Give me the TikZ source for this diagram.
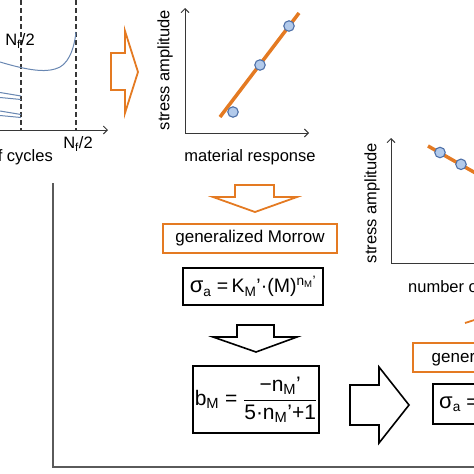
\documentclass[tikz,border=0pt]{standalone}
\usepackage{fontspec}
\setmainfont{Liberation Sans}
\usetikzlibrary{arrows.meta}
\definecolor{org}{RGB}{228,122,34}
\definecolor{dotfill}{RGB}{178,202,235}
\definecolor{dotline}{RGB}{78,112,168}
\definecolor{crv}{RGB}{105,135,178}
\definecolor{frm}{RGB}{90,90,90}
\definecolor{axc}{RGB}{55,55,55}
\tikzset{
  lbl/.style={font=\fontsize{16.5}{19}\selectfont, inner sep=0pt},
  frml/.style={font=\fontsize{19.5}{22}\selectfont, inner sep=0pt},
  frmlb/.style={font=\fontsize{21}{24}\selectfont, inner sep=0pt},
  axisln/.style={draw=axc, line width=0.9pt, -{Straight Barb[length=4pt,width=8pt]}},
  dashln/.style={draw=axc, line width=1.1pt, dash pattern=on 5pt off 3pt},
  crvln/.style={draw=crv, line width=1pt},
  fitln/.style={draw=org, line width=3.5pt},
  dotc/.style={circle, draw=dotline, fill=dotfill, line width=1.1pt, minimum size=10.5pt, inner sep=0pt},
  oarrow/.style={draw=org, line width=1.8pt, fill=white, line join=miter},
  barrow/.style={draw=black, line width=1.6pt, fill=white, line join=miter},
  obox/.style={draw=org, line width=1.8pt, rectangle},
  bbox/.style={draw=black, line width=1.5pt, rectangle},
  frame/.style={draw=frm, line width=2pt}
}
\begin{document}
\begin{tikzpicture}[x=1pt,y=-1pt]
\useasboundingbox (0,0) rectangle (474,474);
\clip (0,0) rectangle (474,474);

% ---- top-left plot (cropped) ----
\draw[dashln] (21,0) -- (21,130);
\draw[dashln] (76,0) -- (76,130);
\coordinate (xa0) at (0,130);
\coordinate (xa1) at (108,130);
\draw[axisln] (xa0) -- (xa1);
\draw[crvln] (0,62) .. controls (30,71) and (45,72) .. (55,69) .. controls (68,66) and (74,50) .. (76,32);
\draw[crvln] (0,92.5) -- (21,96);
\draw[crvln] (0,97.5) -- (21,99.5);
\draw[crvln] (0,111) -- (21,114.5);
\draw[crvln] (0,115.5) -- (21,117.5);
\node[lbl] (nf1) at (20,41) {N\textsubscript{f}/2};
\node[lbl] (nf2) at (78,144) {N\textsubscript{f}/2};
\node[lbl, anchor=east] (cyc1) at (53,157) {number of cycles};

% orange right arrow
\draw[oarrow] (111,53) -- (125,53) -- (125,31) -- (138,72) -- (125,113) -- (125,90) -- (111,90) -- cycle;

% ---- middle plot ----
\coordinate (o1) at (185,133);
\coordinate (y1) at (185,8);
\coordinate (x1) at (309,133);
\draw[axisln] (o1) -- (y1);
\draw[axisln] (o1) -- (x1);
\coordinate (f1a) at (220,117);
\coordinate (f1b) at (299,13);
\draw[fitln] (f1a) -- (f1b);
\node[dotc] (d1) at (233,112) {};
\node[dotc] (d2) at (260,65) {};
\node[dotc] (d3) at (289,26) {};
\node[lbl, rotate=90] (sa1) at (165,70) {stress amplitude};
\node[lbl] (mr) at (250,157) {material response};

% orange down arrow
\draw[oarrow] (235,185) -- (274,185) -- (274,197) -- (297,197) -- (255,212) -- (213,197) -- (235,197) -- cycle;

% generalized Morrow box
\node[obox, minimum width=174pt, minimum height=29pt, font=\fontsize{17}{20}\selectfont] (gm) at (250,238.5) {generalized Morrow};

% formula box 1
\node[bbox, minimum width=140pt, minimum height=37pt, frml] (fm1) at (253,286.5)
  {{\fontsize{22}{24}\selectfont σ}\textsubscript{a} =\,K\textsubscript{M}’·(M)\textsuperscript{n\textsubscript{M}’}};

% black down arrow
\draw[barrow] (237,325) -- (274,325) -- (274,337) -- (297,337) -- (256,352) -- (213,337) -- (237,337) -- cycle;

% b_M box
\node[bbox, minimum width=126pt, minimum height=67pt, frmlb] (bm) at (256,399.5)
  {b\textsubscript{M} = $\displaystyle\frac{\mbox{−n\textsubscript{M}’}}{\mbox{5·n\textsubscript{M}’+1}}$};

% black right arrow
\draw[barrow] (350,385) -- (379,385) -- (379,367) -- (409,405) -- (379,443) -- (379,425) -- (350,425) -- cycle;

% frame line
\coordinate (fr0) at (53,183);
\coordinate (fr1) at (53,467);
\coordinate (fr2) at (480,467);
\draw[frame] (fr0) -- (fr1) -- (fr2);

% ---- right plot (cropped) ----
\coordinate (o2) at (391,263);
\coordinate (y2) at (391,138);
\coordinate (x2) at (490,263);
\draw[axisln] (o2) -- (y2);
\draw[draw=axc, line width=0.9pt] (o2) -- (x2);
\coordinate (f2a) at (428,146);
\coordinate (f2b) at (490,181.3);
\draw[fitln] (f2a) -- (f2b);
\node[dotc] (d4) at (440,152.5) {};
\node[dotc] (d5) at (461,164.3) {};
\node[lbl, rotate=90] (sa2) at (372,203) {stress amplitude};
\node[lbl, anchor=west] (cyc2) at (408,288) {number of cycles};

% orange fragment of a further arrow
\coordinate (oa) at (465,323);
\coordinate (ob) at (476,319.5);
\draw[draw=org, line width=1.8pt] (oa) -- (ob);

% right boxes (cropped)
\draw[obox] (413,343) rectangle (520,372);
\node[anchor=west, inner sep=0pt, font=\fontsize{17}{20}\selectfont] (gb) at (431.5,358) {generalized};
\draw[bbox] (433,384) rectangle (520,424);
\node[anchor=west, frml] (fm2) at (439,404) {{\fontsize{22}{24}\selectfont σ}\textsubscript{a} =};
\end{tikzpicture}
\end{document}
